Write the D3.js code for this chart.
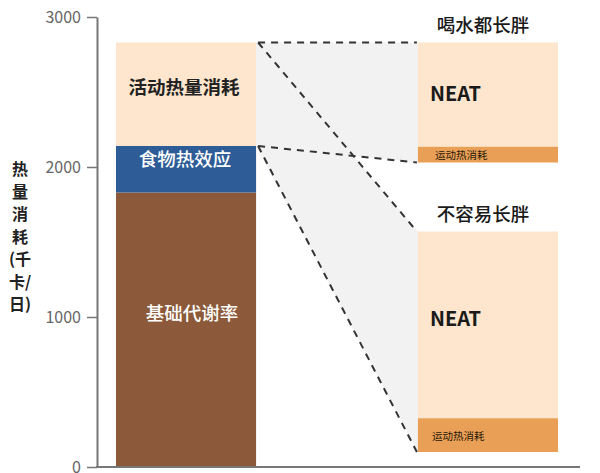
<!DOCTYPE html>
<html><head><meta charset="utf-8">
<script src="https://cdn.jsdelivr.net/npm/d3@7"></script>
<style>
body{margin:0;background:#fff;}
svg{display:block;}
text{font-family:"Noto Sans CJK SC","Noto Sans",sans-serif;}
</style></head>
<body><div id="chart"></div>
<script>
// ---- data ----
const tickValues = [0, 1000, 2000, 3000];
const leftSegments = ["基础代谢率", "食物热效应", "活动热量消耗"];
const leftValues = [1830, 310, 690];
const rightGroups = ["喝水都长胖", "不容易长胖"];
const rightBase = [2030, 100];
const exerciseValues = [105, 225];
const neatValues = [695, 1245];
const exerciseLabel = "运动热消耗";
const neatLabel = "NEAT";
const yTitle = ["热", "量", "消", "耗", "(千", "卡/", "日)"];

const W = 600, H = 473;
const svg = d3.select("#chart").append("svg").attr("width", W).attr("height", H);

const y = d3.scaleLinear().domain([0, 3000]).range([467, 17]);
const x = d3.scaleBand().domain(["left", "right"]).range([116, 558]).paddingInner(0.536).paddingOuter(0);
const bw = x.bandwidth();

const leftColors = ["#8c5a3b", "#2d5c96", "#fde6cd"];
const leftTextColors = ["#fff", "#fff", "#222"];

// cumulative left
let acc = 0;
const leftStack = leftValues.map((v, i) => { const s = {name: leftSegments[i], y0: acc, y1: acc + v}; acc += v; return s; });
const leftTop = acc;
const foodTop = leftStack[1].y1;

// gray trapezoids
const xl = x("left") + bw, xr = x("right");
const trapUpper = [[xl, y(leftTop)], [xr, y(rightBase[0] + exerciseValues[0] + neatValues[0])], [xr, y(rightBase[0])], [xl, y(foodTop)]];
const trapLower = [[xl, y(leftTop)], [xr, y(rightBase[1] + exerciseValues[1] + neatValues[1])], [xr, y(rightBase[1])], [xl, y(foodTop)]];
svg.selectAll("polygon.trap").data([trapUpper, trapLower]).join("polygon")
  .attr("class", "trap")
  .attr("points", d => d.map(p => p.join(",")).join(" "))
  .attr("fill", "#f2f2f2");

// left bar
svg.selectAll("rect.left").data(leftStack).join("rect")
  .attr("class", "left")
  .attr("x", x("left")).attr("width", bw)
  .attr("y", d => y(d.y1)).attr("height", d => y(d.y0) - y(d.y1))
  .attr("fill", (d, i) => leftColors[i]);

const leftLabelY = [312, 158, 86];
svg.selectAll("text.leftlab").data(leftStack).join("text")
  .attr("class", "leftlab")
  .attr("x", (d, i) => x("left") + bw / 2 + (i === 0 ? 6 : (i === 2 ? -2 : -1)))
  .attr("y", (d, i) => leftLabelY[i])
  .attr("text-anchor", "middle").attr("dominant-baseline", "central")
  .attr("font-size", 18.5).attr("font-weight", (d, i) => i === 2 ? 700 : 500)
  .attr("fill", (d, i) => leftTextColors[i])
  .text(d => d.name);

// right bars
rightGroups.forEach((g, i) => {
  const b = rightBase[i], e = exerciseValues[i], n = neatValues[i];
  svg.append("rect").attr("x", x("right")).attr("width", bw)
    .attr("y", y(b + e + n)).attr("height", y(b + e) - y(b + e + n)).attr("fill", "#fde6cd");
  svg.append("rect").attr("x", x("right")).attr("width", bw)
    .attr("y", y(b + e)).attr("height", y(b) - y(b + e)).attr("fill", "#e9a056");
  svg.append("text").attr("x", x("right") + (i === 0 ? 17 : 14)).attr("y", (y(b) + y(b + e)) / 2)
    .attr("dominant-baseline", "central").attr("font-size", 10.5).attr("fill", "#2a1a0a")
    .text(exerciseLabel);
  svg.append("text").attr("x", x("right") + 12).attr("y", i === 0 ? 92 : 317)
    .attr("dominant-baseline", "central").attr("font-size", 20).attr("font-weight", 700)
    .attr("font-family", "Liberation Sans, Arial, sans-serif").attr("fill", "#1a1a1a")
    .text(neatLabel);
  svg.append("text").attr("x", x("right") + bw / 2 - 5).attr("y", y(b + e + n) - 19)
    .attr("text-anchor", "middle").attr("dominant-baseline", "central")
    .attr("font-size", 18.5).attr("font-weight", 500).attr("fill", "#1a1a1a")
    .text(g);
});

// dashed connectors
const dashLines = [
  [trapUpper[0], trapUpper[1]], [trapUpper[3], trapUpper[2]],
  [trapLower[0], trapLower[1]], [trapLower[3], trapLower[2]]
];
svg.selectAll("line.dash").data(dashLines).join("line")
  .attr("class", "dash")
  .attr("x1", d => d[0][0] + 2).attr("y1", d => d[0][1])
  .attr("x2", d => d[1][0] - 1).attr("y2", d => d[1][1])
  .attr("stroke", "#333").attr("stroke-width", 2).attr("stroke-dasharray", "7,6");

// axes
const yAxis = svg.append("g").attr("transform", "translate(97,0)")
  .call(d3.axisLeft(y).tickValues(tickValues).tickSize(10).tickSizeOuter(0).tickPadding(6).tickFormat(d3.format("d")));
yAxis.select(".domain").attr("stroke", "#777").attr("stroke-width", 2);
yAxis.selectAll(".tick line").attr("stroke", "#777").attr("stroke-width", 1.5);
yAxis.selectAll(".tick text").attr("font-size", 16).attr("fill", "#666")
  .attr("font-family", "Open Sans, Lato, sans-serif").attr("font-weight", 400);

svg.append("line").attr("x1", 96).attr("x2", 580).attr("y1", y(0)).attr("y2", y(0))
  .attr("stroke", "#777").attr("stroke-width", 2);

// y title
svg.selectAll("text.ytitle").data(yTitle).join("text")
  .attr("class", "ytitle")
  .attr("x", 20).attr("y", (d, i) => 168 + i * 22.5)
  .attr("text-anchor", "middle").attr("dominant-baseline", "central")
  .attr("font-size", 16).attr("font-weight", 700).attr("fill", "#222")
  .text(d => d);
</script></body></html>
